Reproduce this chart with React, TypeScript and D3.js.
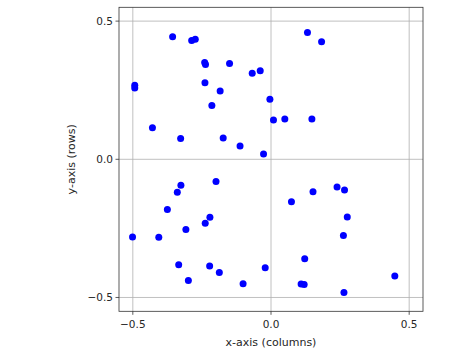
import React from "react";
import * as d3 from "d3";

const xValues = [
  -0.356, -0.287, -0.274, -0.24, -0.237, -0.15, -0.068, -0.039, -0.493, -0.493,
  -0.239, -0.184, -0.004, -0.214, 0.009, -0.429, -0.327, -0.173, -0.112, -0.027,
  0.132, 0.183, 0.05, 0.148,
  -0.326, -0.339, -0.199, -0.375, -0.221, -0.238, -0.308, -0.501, -0.406, -0.334,
  -0.222, -0.187, -0.299, -0.101, -0.021,
  0.239, 0.266, 0.152, 0.074, 0.276, 0.262, 0.122, 0.448, 0.109, 0.12, 0.264,
];
const yValues = [
  0.443, 0.43, 0.434, 0.35, 0.343, 0.347, 0.311, 0.32, 0.268, 0.258,
  0.277, 0.247, 0.217, 0.195, 0.142, 0.114, 0.075, 0.077, 0.048, 0.019,
  0.459, 0.425, 0.146, 0.146,
  -0.094, -0.119, -0.08, -0.182, -0.21, -0.231, -0.254, -0.281, -0.282, -0.382,
  -0.386, -0.41, -0.439, -0.45, -0.392,
  -0.1, -0.111, -0.117, -0.154, -0.209, -0.276, -0.36, -0.422, -0.451, -0.453, -0.482,
];
const xTicks = [-0.5, 0.0, 0.5];
const yTicks = [-0.5, 0.0, 0.5];

const W = 474;
const H = 355;
const left = 119;
const right = 423;
const top = 7.3;
const bottom = 311.3;

export default function App() {
  const x = d3.scaleLinear().domain([-0.55, 0.55]).range([left, right]);
  const y = d3.scaleLinear().domain([-0.55, 0.55]).range([bottom, top]);
  const fmt = (v: number) => d3.format(".1f")(v).replace("-", "\u2212");
  const font = "DejaVu Sans, sans-serif";
  const textColor = "#262626";
  return (
    <svg
      width={W}
      height={H}
      style={{ position: "absolute", left: 0, top: 0, background: "#fff" }}
    >
      <rect x={0} y={0} width={W} height={H} fill="#fff" />
      {xTicks.map((t) => (
        <line key={"gx" + t} x1={x(t)} x2={x(t)} y1={top} y2={bottom} stroke="#b0b0b0" strokeWidth={0.8} />
      ))}
      {yTicks.map((t) => (
        <line key={"gy" + t} x1={left} x2={right} y1={y(t)} y2={y(t)} stroke="#b0b0b0" strokeWidth={0.8} />
      ))}
      {xValues.map((v, i) => (
        <circle key={i} cx={x(v)} cy={y(yValues[i])} r={3.5} fill="#0000ff" />
      ))}
      <rect x={left} y={top} width={right - left} height={bottom - top} fill="none" stroke="#333" strokeWidth={0.8} />
      {xTicks.map((t) => (
        <g key={"tx" + t}>
          <line x1={x(t)} x2={x(t)} y1={bottom} y2={bottom + 3.5} stroke="#333" strokeWidth={0.8} />
          <text x={x(t)} y={bottom + 17} textAnchor="middle" fontFamily={font} fontSize={10.5} fill={textColor}>
            {fmt(t)}
          </text>
        </g>
      ))}
      {yTicks.map((t) => (
        <g key={"ty" + t}>
          <line x1={left - 3.5} x2={left} y1={y(t)} y2={y(t)} stroke="#333" strokeWidth={0.8} />
          <text x={left - 6} y={y(t)} dy="0.35em" textAnchor="end" fontFamily={font} fontSize={10.5} fill={textColor}>
            {fmt(t)}
          </text>
        </g>
      ))}
      <text x={(left + right) / 2} y={345.5} textAnchor="middle" fontFamily={font} fontSize={11} fill={textColor}>
        x-axis (columns)
      </text>
      <text
        transform={`translate(${75},${(top + bottom) / 2}) rotate(-90)`}
        textAnchor="middle"
        fontFamily={font}
        fontSize={11}
        fill={textColor}
      >
        y-axis (rows)
      </text>
    </svg>
  );
}
